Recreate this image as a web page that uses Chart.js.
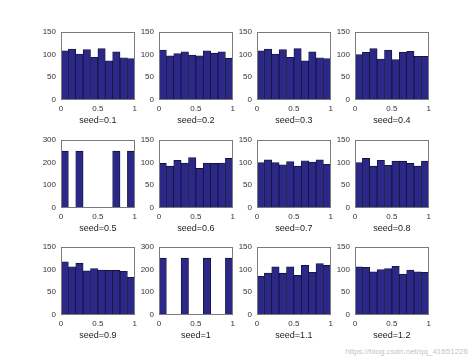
<!DOCTYPE html>
<html>
<head>
<meta charset="utf-8">
<script src="https://cdn.jsdelivr.net/npm/chart.js@4"></script>
<style>
  body { margin: 0; background: #fff; width: 474px; height: 360px; position: relative; overflow: hidden; }
  canvas { position: absolute; }
  #mark { position: absolute; right: 6px; top: 347px; font: 8px "Liberation Sans", Arial, sans-serif; color: #c4c4c4; }
</style>
</head>
<body>
<div id="mark">https://blog.csdn.net/qq_41651226</div>
<script>
// histogram bins (centres of 10 bins on [0, 1])
const binCenters = [0.05, 0.15, 0.25, 0.35, 0.45, 0.55, 0.65, 0.75, 0.85, 0.95];

const seedLabels = ["seed=0.1", "seed=0.2", "seed=0.3", "seed=0.4",
                    "seed=0.5", "seed=0.6", "seed=0.7", "seed=0.8",
                    "seed=0.9", "seed=1", "seed=1.1", "seed=1.2"];

// counts per bin
const seed01 = [108, 112, 101, 111, 94, 113, 86, 106, 93, 91];
const seed02 = [110, 97, 102, 106, 99, 97, 108, 103, 106, 92];
const seed03 = [108, 112, 101, 111, 94, 113, 86, 106, 93, 91];
const seed04 = [100, 105, 113, 90, 110, 89, 105, 107, 96, 96];
const seed05 = [250, 0, 250, 0, 0, 0, 0, 250, 0, 250];
const seed06 = [98, 92, 105, 99, 111, 87, 99, 98, 99, 109];
const seed07 = [100, 106, 100, 95, 102, 92, 104, 101, 106, 96];
const seed08 = [100, 109, 92, 105, 94, 103, 103, 98, 92, 103];
const seed09 = [117, 106, 114, 97, 102, 99, 98, 98, 96, 83];
const seed10 = [250, 0, 0, 250, 0, 0, 250, 0, 0, 250];
const seed11 = [85, 92, 106, 92, 106, 87, 109, 94, 113, 109];
const seed12 = [106, 105, 95, 100, 102, 107, 90, 99, 95, 94];

const allCounts = [seed01, seed02, seed03, seed04, seed05, seed06,
                   seed07, seed08, seed09, seed10, seed11, seed12];

// y axis limits / tick step of each subplot
const yMax  = [150, 150, 150, 150, 300, 150, 150, 150, 150, 300, 150, 150];
const yStep = [50, 50, 50, 50, 100, 50, 50, 50, 50, 100, 50, 50];

/* ===============================
   LAYOUT (axes boxes in px)
   =============================== */
const colLeft = [61, 159, 257, 355];
const rowTop = [28, 136, 243];
const axW = 74, axH = 72;
const padL = 26, padT = 6, padR = 6, padB = 26;

const FONT = "'Liberation Sans', Arial, sans-serif";

// box round the plot area, like matlab "box on"
const boxPlugin = {
  id: "box",
  afterDraw(chart) {
    const a = chart.chartArea;
    const ctx = chart.ctx;
    ctx.save();
    ctx.strokeStyle = "#7a7a7a";
    ctx.lineWidth = 1;
    ctx.strokeRect(Math.round(a.left) + 0.5, Math.round(a.top) + 0.5,
                   Math.round(a.right - a.left) - 1, Math.round(a.bottom - a.top) - 1);
    ctx.restore();
  }
};

allCounts.forEach((counts, i) => {
  const col = i % 4, row = Math.floor(i / 4);
  const cv = document.createElement("canvas");
  cv.width = axW + padL + padR;
  cv.height = axH + padT + padB;
  cv.style.left = (colLeft[col] - padL) + "px";
  cv.style.top = (rowTop[row] - padT) + "px";
  document.body.appendChild(cv);

  new Chart(cv, {
    type: "bar",
    data: {
      datasets: [{
        data: binCenters.map((x, k) => ({ x, y: counts[k] })),
        backgroundColor: "rgb(44,40,136)",
        borderColor: "rgb(18,18,55)",
        borderWidth: 0.8,
        barPercentage: 1,
        categoryPercentage: 1
      }]
    },
    options: {
      responsive: false,
      animation: false,
      events: [],
      layout: { padding: { left: 0, top: padT, right: padR, bottom: 0 } },
      plugins: { legend: { display: false }, tooltip: { enabled: false } },
      scales: {
        x: {
          type: "linear",
          min: 0, max: 1,
          offset: false,
          grid: { display: false, drawTicks: false },
          border: { display: false },
          ticks: {
            stepSize: 0.5, padding: 4, maxRotation: 0, color: "#333",
            font: { family: FONT, size: 8 },
            callback: v => String(v)
          },
          title: { display: true, text: seedLabels[i], color: "#222", padding: 0, font: { family: FONT, size: 9 } },
          afterFit(s) { s.height = padB; }
        },
        y: {
          min: 0, max: yMax[i],
          grid: { display: false, drawTicks: false },
          border: { display: false },
          ticks: { stepSize: yStep[i], padding: 5, color: "#333", font: { family: FONT, size: 8 } },
          afterFit(s) { s.width = padL; }
        }
      }
    },
    plugins: [boxPlugin]
  });
});
</script>
</body>
</html>
